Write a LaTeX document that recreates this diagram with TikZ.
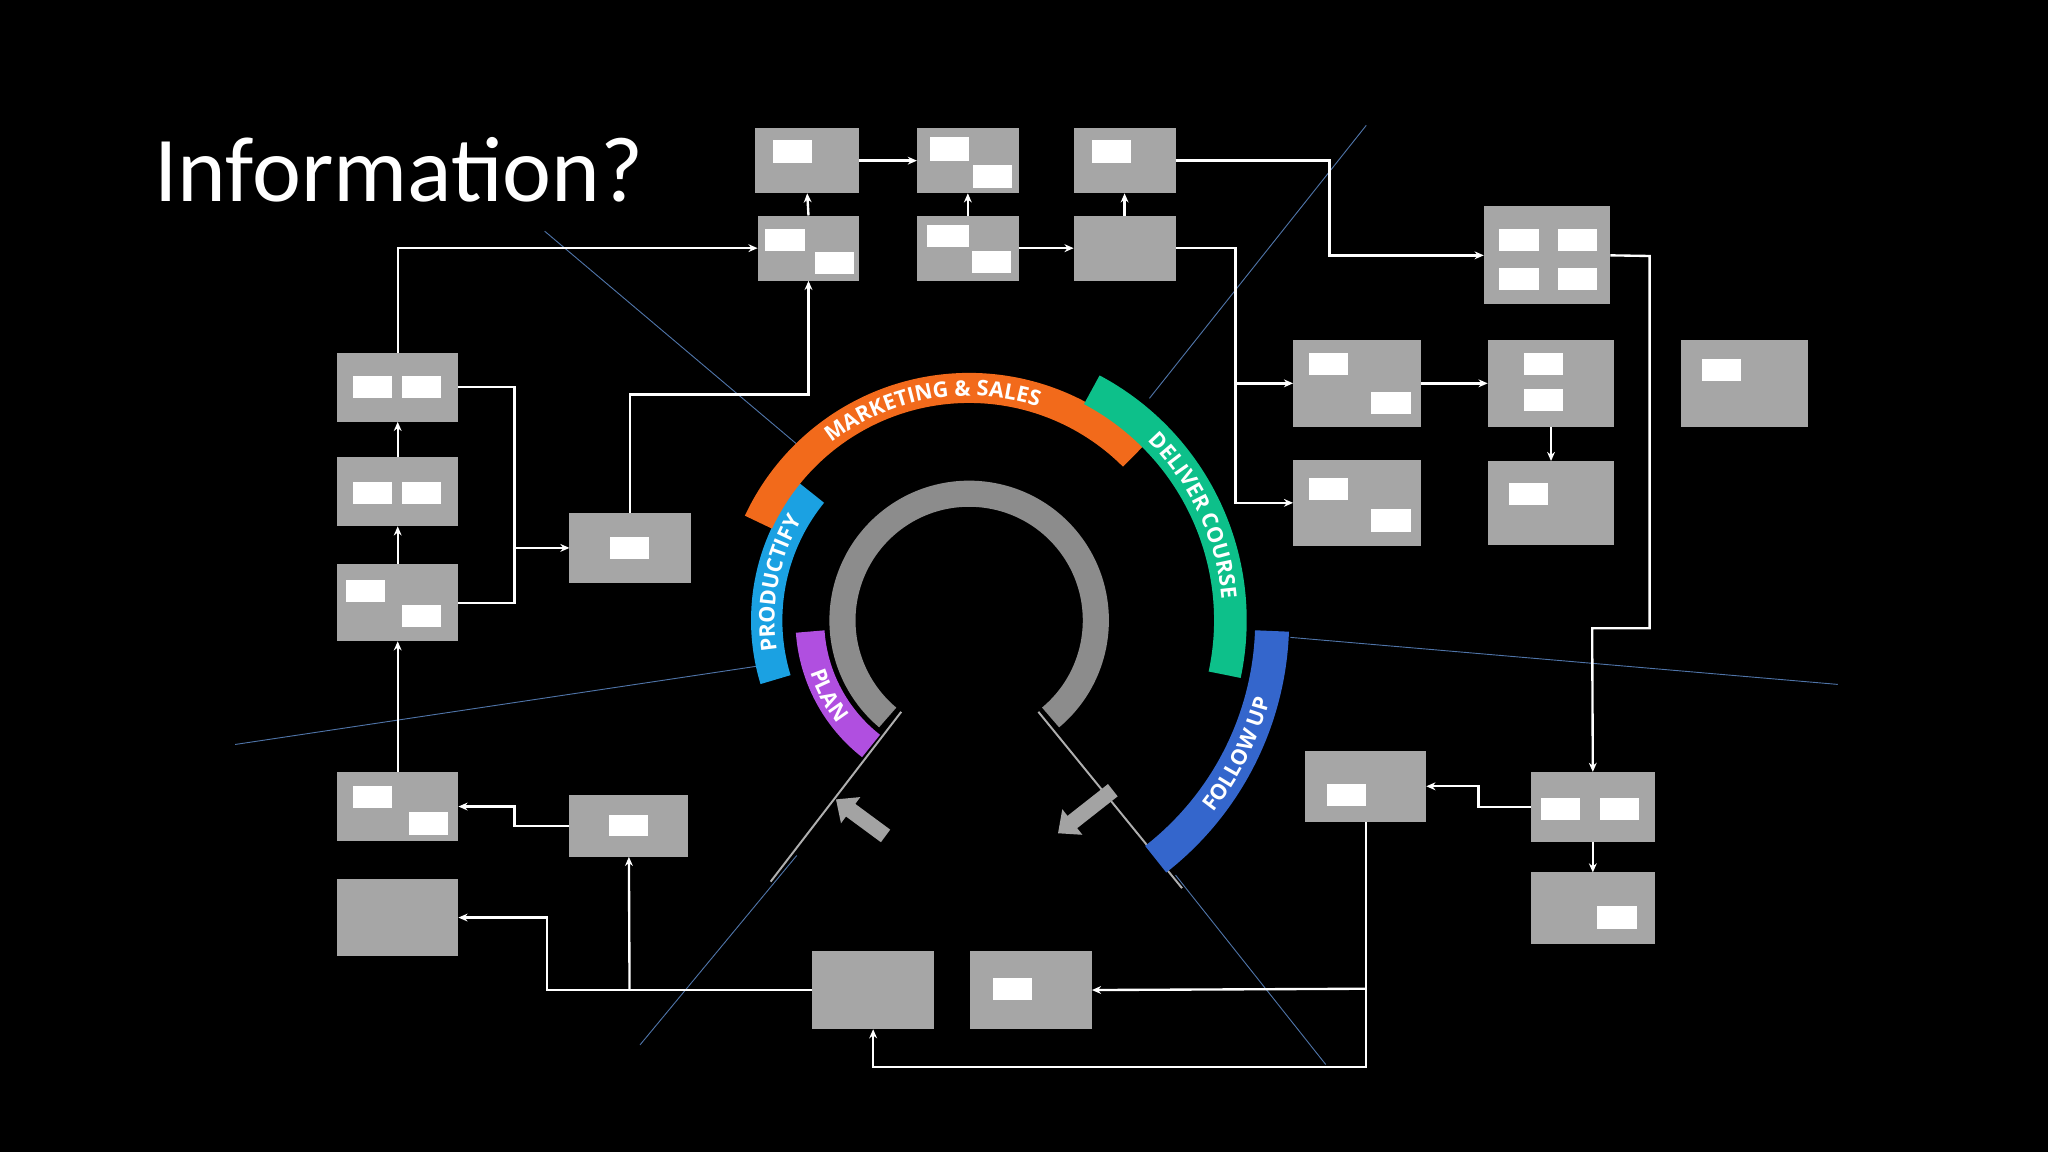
\documentclass[tikz,border=0pt]{standalone}
\usepackage{fontspec}
\setmainfont{Carlito}
\newfontfamily\arcfont{Open Sans}
\usetikzlibrary{arrows.meta,decorations.text}
\definecolor{boxgray}{HTML}{A6A6A6}
\definecolor{ringgray}{HTML}{8C8C8C}
\definecolor{mkt}{HTML}{F26A1B}
\definecolor{prod}{HTML}{1BA1E2}
\definecolor{plan}{HTML}{B04FE0}
\definecolor{deliv}{HTML}{0DC08A}
\definecolor{follow}{HTML}{3466CC}
\definecolor{thinblue}{HTML}{4F74A8}
\tikzset{
 box/.style={fill=boxgray,draw=none,inner sep=0pt,outer sep=0pt},
 wbox/.style={fill=white,draw=none,inner sep=0pt,outer sep=0pt},
 arr/.style={draw=white,line width=1.8pt,-{Stealth[length=7pt,width=6pt]}},
 ln/.style={draw=white,line width=1.8pt},
 thin/.style={draw=thinblue,line width=0.7pt},
 band/.style={line width=#1,line cap=butt},
 arctext/.style={decorate,decoration={text along path,text align=center,text color=white,text={|\arcfont\bfseries\fontsize{16.5}{16.5}\selectfont|#1}}},
}
\newcommand\bx[5]{\node[box,minimum width={(#4-#2)*1pt},minimum height={(#5-#3)*1pt}] (#1) at ({(#2+#4)/2},{(#3+#5)/2}) {};}
\newcommand\wb[5]{\node[wbox,minimum width={(#4-#2)*1pt},minimum height={(#5-#3)*1pt}] (#1) at ({(#2+#4)/2},{(#3+#5)/2}) {};}
\begin{document}
\begin{tikzpicture}[x=1pt,y=-1pt]
\fill[black] (0,0) rectangle (1568,882);
\useasboundingbox (0,0) rectangle (1568,882);
\node[anchor=west,text=white,font=\fontsize{71}{71}\selectfont,inner sep=0pt] (title) at (118,130) {Information?};
% thin lines
\draw[thin] (417,177) -- (610,340);
\draw[thin] (1046,96) -- (880,305);
\draw[thin] (180,570) -- (580,510);
\draw[thin] (988,488) -- (1407,524);
\draw[thin] (490,800) -- (610,655);
\draw[thin] (900,670) -- (1015,815);
% keyhole
\draw[draw=ringgray!70,line width=1.5pt] (690,545) -- (590,675);
\draw[draw=ringgray!70,line width=1.5pt] (795,545) -- (905,680);
\begin{scope}[shift={(742,475)},x=1pt,y=1pt]
\draw[ringgray,band=20pt] (-50:97) arc[start angle=-50,end angle=230,radius=97];
\draw[plan,band=22pt] (184:122) arc[start angle=184,end angle=232,radius=122];
\draw[prod,band=24pt] (197:155) arc[start angle=197,end angle=141,radius=155];
\draw[mkt,band=23pt] (155:178) arc[start angle=155,end angle=45,radius=178];
\draw[deliv,band=25pt] (62:200) arc[start angle=62,end angle=-12,radius=200];
\draw[follow,band=26pt] (-52:232) arc[start angle=-52,end angle=-2,radius=232];
\path[arctext={MARKETING {\&} SALES}] (152:172) arc[start angle=152,end angle=48,radius=172];
\path[arctext={PRODUCTIFY}] (196:149) arc[start angle=196,end angle=142,radius=149];
\path[arctext={PLAN}] (186:128) arc[start angle=186,end angle=230,radius=128];
\path[arctext={DELIVER COURSE}] (61:194) arc[start angle=61,end angle=-11,radius=194];
\path[arctext={FOLLOW UP}] (-50:238) arc[start angle=-50,end angle=-3,radius=238];
\end{scope}
\draw[ringgray!80,line width=12pt,-{Triangle[length=14pt,width=24pt]}] (678,640) -- (640,612);
\draw[ringgray!80,line width=12pt,-{Triangle[length=14pt,width=24pt]}] (852,605) -- (810,638);
% boxes
\bx{A1}{578}{98}{658}{148}\wb{a1w}{592}{107}{622}{125}
\bx{A2}{702}{98}{780}{148}\wb{a2w}{712}{105}{742}{123}\wb{a2v}{745}{126}{775}{144}
\bx{A3}{822}{98}{900}{148}\wb{a3w}{836}{107}{866}{125}
\bx{B1}{580}{165}{658}{215}\wb{b1w}{586}{175}{616}{192}\wb{b1v}{624}{193}{654}{210}
\bx{B2}{702}{165}{780}{215}\wb{b2w}{710}{172}{742}{189}\wb{b2v}{744}{192}{774}{209}
\bx{B3}{822}{165}{900}{215}
\bx{C}{1136}{158}{1233}{233}\wb{c1}{1148}{175}{1178}{192}\wb{c2}{1193}{175}{1223}{192}\wb{c3}{1148}{205}{1178}{222}\wb{c4}{1193}{205}{1223}{222}
\bx{D1}{990}{260}{1088}{327}\wb{d1w}{1002}{270}{1032}{287}\wb{d1v}{1050}{300}{1080}{317}
\bx{D2}{1139}{260}{1236}{327}\wb{d2w}{1167}{270}{1197}{287}\wb{d2v}{1167}{298}{1197}{315}
\bx{D3}{1287}{260}{1384}{327}\wb{d3w}{1303}{275}{1333}{292}
\bx{E1}{990}{352}{1088}{418}\wb{e1w}{1002}{366}{1032}{383}\wb{e1v}{1050}{390}{1080}{407}
\bx{E2}{1139}{353}{1236}{417}\wb{e2w}{1155}{370}{1185}{387}
\bx{L1}{258}{270}{351}{323}\wb{l1w}{270}{288}{300}{305}\wb{l1v}{308}{288}{338}{305}
\bx{L2}{258}{350}{351}{403}\wb{l2w}{270}{369}{300}{386}\wb{l2v}{308}{369}{338}{386}
\bx{L3}{258}{432}{351}{491}\wb{l3w}{265}{444}{295}{461}\wb{l3v}{308}{463}{338}{480}
\bx{M}{436}{393}{529}{446}\wb{mw}{467}{411}{497}{428}
\bx{L4}{258}{591}{351}{644}\wb{l4w}{270}{602}{300}{619}\wb{l4v}{313}{622}{343}{639}
\bx{N}{436}{609}{527}{656}\wb{nw}{466}{624}{496}{640}
\bx{L5}{258}{673}{351}{732}
\bx{P1}{622}{728}{715}{788}
\bx{P2}{743}{728}{836}{788}\wb{p2w}{760}{749}{790}{766}
\bx{Q}{999}{575}{1092}{629}\wb{qw}{1016}{600}{1046}{617}
\bx{R1}{1172}{591}{1267}{645}\wb{r1w}{1180}{611}{1210}{628}\wb{r1v}{1225}{611}{1255}{628}
\bx{R2}{1172}{668}{1267}{723}\wb{r2w}{1223}{694}{1253}{711}
% connectors
\draw[arr] (A1.east) -- (A2.west);
\draw[arr] (B1.north) -- (A1.south);
\draw[arr] (B2.north) -- (A2.south);
\draw[arr] (B3.north) -- (A3.south);
\draw[arr] (B2.east) -- (B3.west);
\draw[arr] (A3.east) -- (1018,123) |- (C.west);
\draw[arr] (B3.east) -- (946,190) |- (D1.west);
\draw[arr] (946,290) |- (E1.west);
\draw[arr] (D1.east) -- (D2.west);
\draw[arr] (D2.south) -- (E2.north);
\draw[arr] (C.east) -- (1263,196) -- (1263,481) -- (1219,481) -- (R1.north);
\draw[arr] (R1.west) -- (1132,618) |- (Q.east);
\draw[arr] (R1.south) -- (R2.north);
\draw[arr] (1046,629) -- (1046,817) -| (P1.south);
\draw[arr] (1046,757) -- (P2.east);
\draw[arr] (P1.west) -- (419,758) |- (L5.east);
\draw[arr] (482,758) -- (N.south);
\draw[arr] (N.west) -- (394,632.5) |- (L4.east);
\draw[arr] (L4.north) -- (L3.south);
\draw[arr] (L3.north) -- (L2.south);
\draw[arr] (L2.north) -- (L1.south);
\draw[arr] (L1.north) |- (B1.west);
\draw[arr] (L1.east) -- (394,296.5) |- (M.west);
\draw[ln] (L3.east) -- (394,461.5) -- (394,419.5);
\draw[arr] (M.north) -- (482.5,302) -| (B1.south);
\end{tikzpicture}
\end{document}
